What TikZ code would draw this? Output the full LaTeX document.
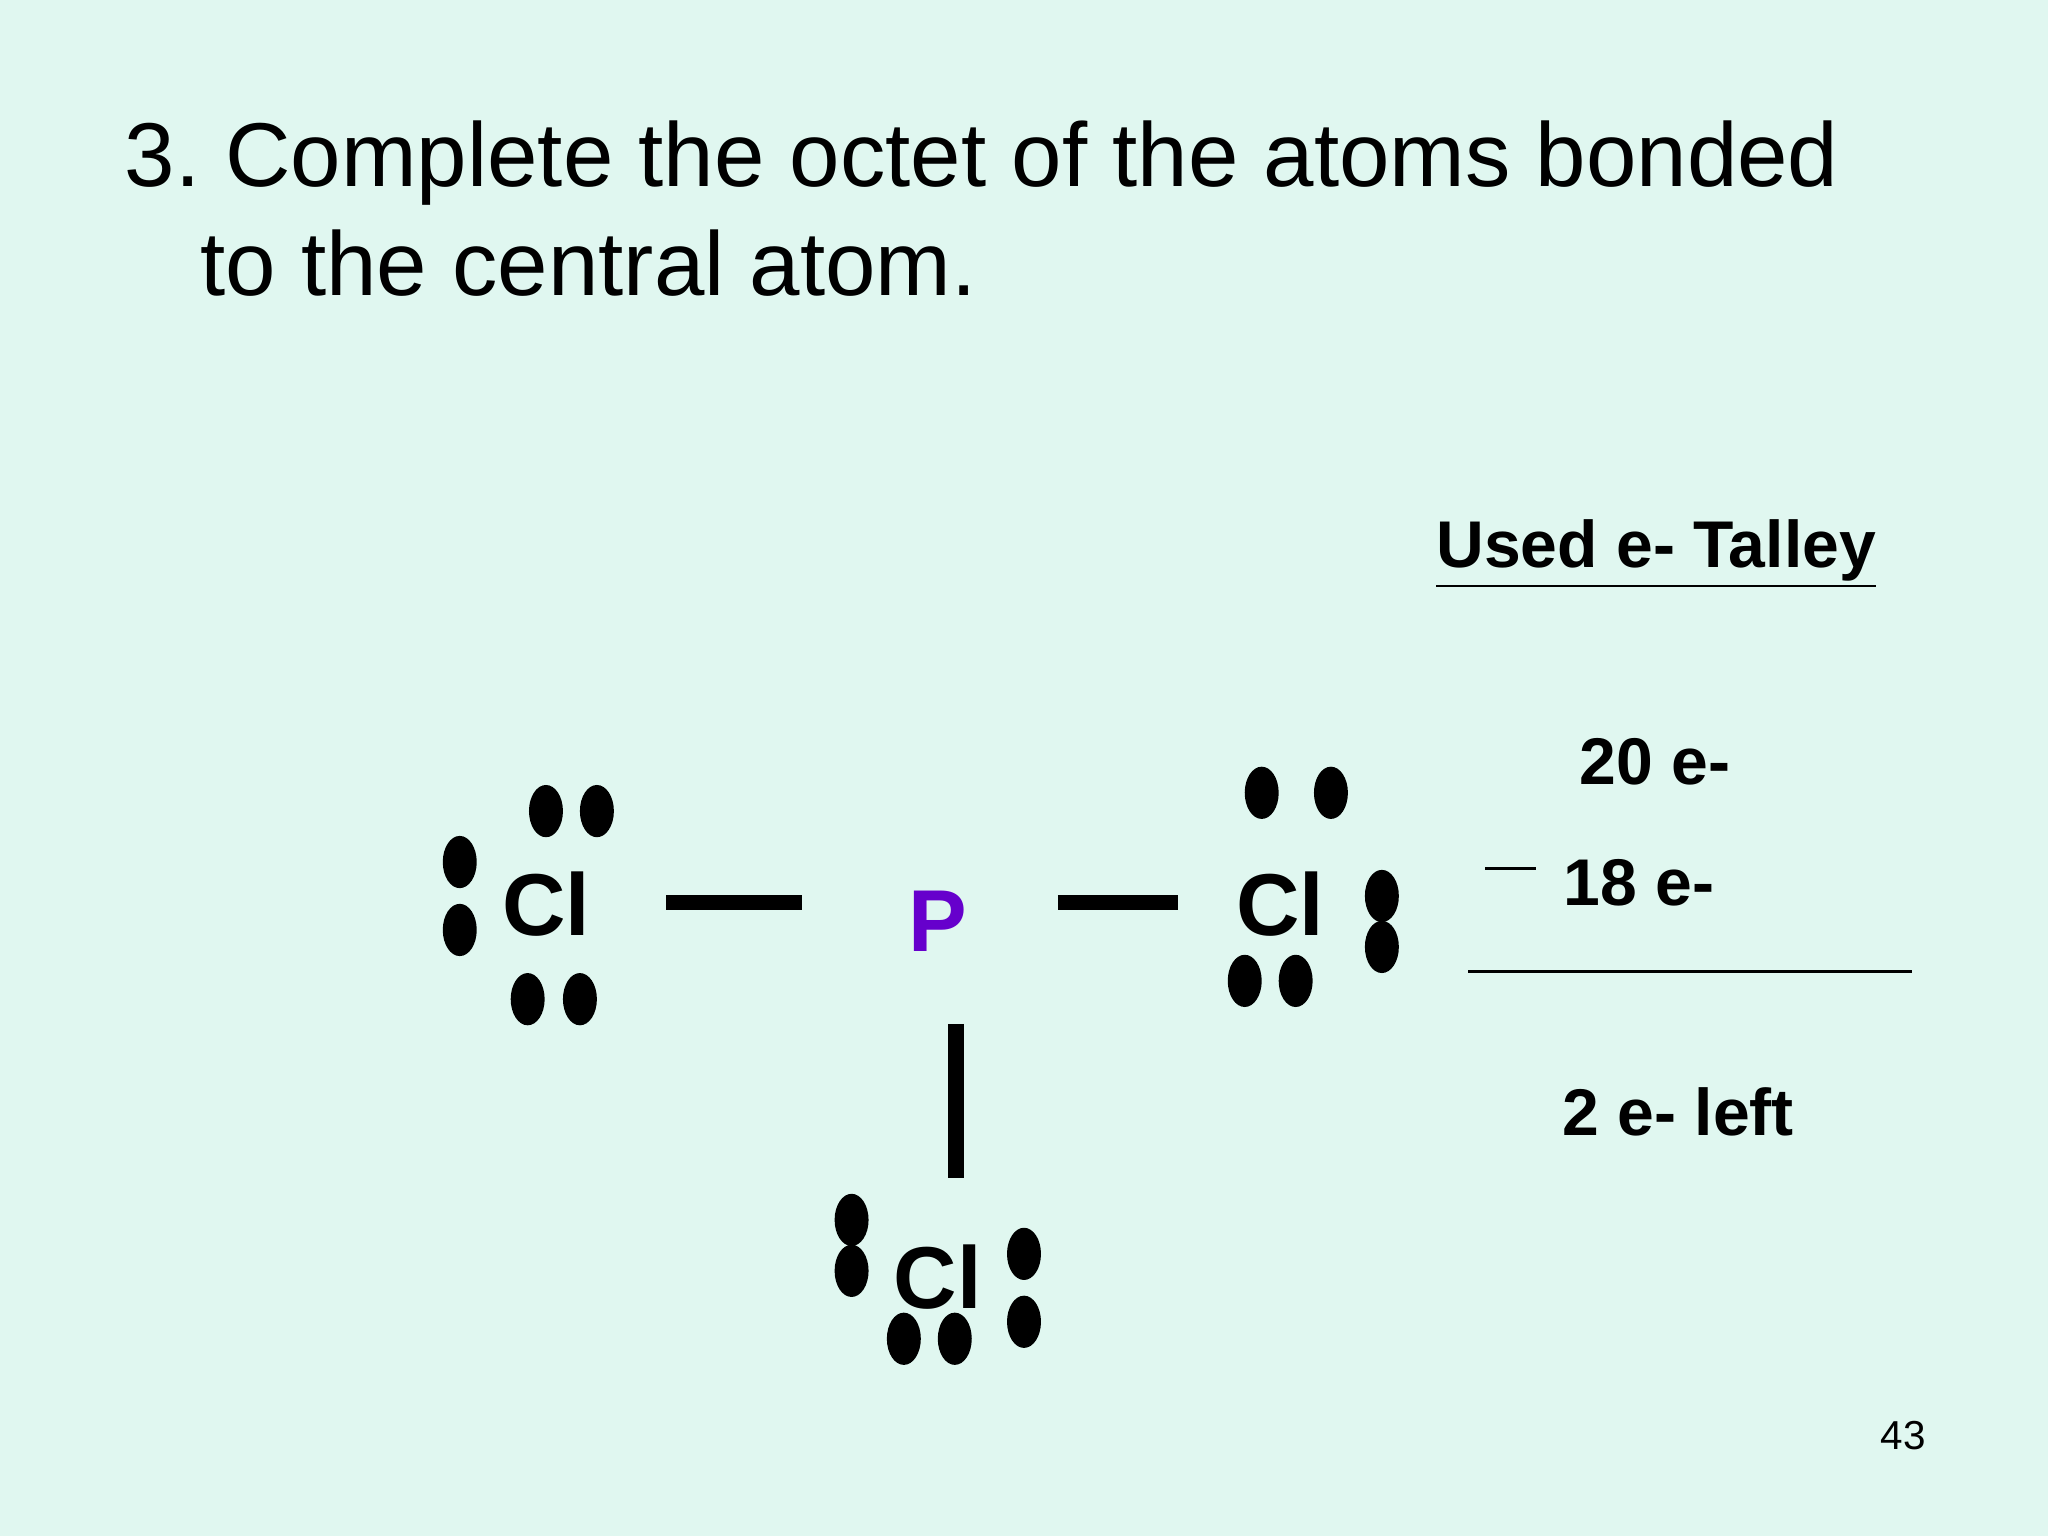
\documentclass[tikz,border=0pt]{standalone}
\usepackage{fontspec}
\setmainfont{Liberation Sans}
\frenchspacing
\begin{document}
\begin{tikzpicture}[x=0.013061cm,y=-0.013061cm,
  dot/.style={fill=black,draw=none},
  bond/.style={line width=4.5pt},
  big/.style={font=\fontsize{25}{30}\selectfont\bfseries,inner sep=0pt},
  tal/.style={font=\fontsize{18.8}{23}\selectfont\bfseries,inner sep=0pt}]
\fill[fill={rgb,255:red,224;green,247;blue,240}] (0,0) rectangle (1568,1176);
\useasboundingbox (0,0) rectangle (1568,1176);
\node[anchor=base west,inner sep=0pt,font=\fontsize{25.8}{31}\selectfont] (t1) at (95,143) {3. Complete the octet of the atoms bonded};
\node[anchor=base west,inner sep=0pt,font=\fontsize{25.8}{31}\selectfont] (t2) at (153,226) {to the central atom.};
\node[big] (cl1) at (418,692) {Cl};
\node[big,text={rgb,255:red,102;green,0;blue,204}] (p) at (718,705) {P};
\node[big] (cl2) at (980,692) {Cl};
\node[big] (cl3) at (718,978) {Cl};
\foreach \x/\y in {418/621,457/621,352/660,352/712,404/765,444/765,
  966/607,1019/607,1058/686,1058/725,953/751,992/751,
  652/934,652/973,784/960,784/1012,692/1025,731/1025}
  \fill[dot] (\x,\y) ellipse [x radius=13,y radius=20];
\coordinate (b1a) at (510,691); \coordinate (b1b) at (614,691);
\coordinate (b2a) at (810,691); \coordinate (b2b) at (902,691);
\coordinate (b3a) at (732,784); \coordinate (b3b) at (732,902);
\draw[bond] (b1a) -- (b1b);
\draw[bond] (b2a) -- (b2b);
\draw[bond] (b3a) -- (b3b);
\node[tal] (used) at (1268,424) {\underline{Used e- Talley}};
\node[tal] (n20) at (1267,583) {20 e-};
\node[tal] (n18) at (1255,676) {18 e-};
\node[tal] (left) at (1285,851) {2 e- left};
\coordinate (m1) at (1137,665); \coordinate (m2) at (1176,665);
\coordinate (l1) at (1124,744); \coordinate (l2) at (1464,744);
\draw[line width=0.8pt] (m1) -- (m2);
\draw[line width=0.8pt] (l1) -- (l2);
\node[inner sep=0pt,font=\fontsize{11.5}{14}\selectfont] (pg) at (1457,1099) {43};
\end{tikzpicture}
\end{document}
